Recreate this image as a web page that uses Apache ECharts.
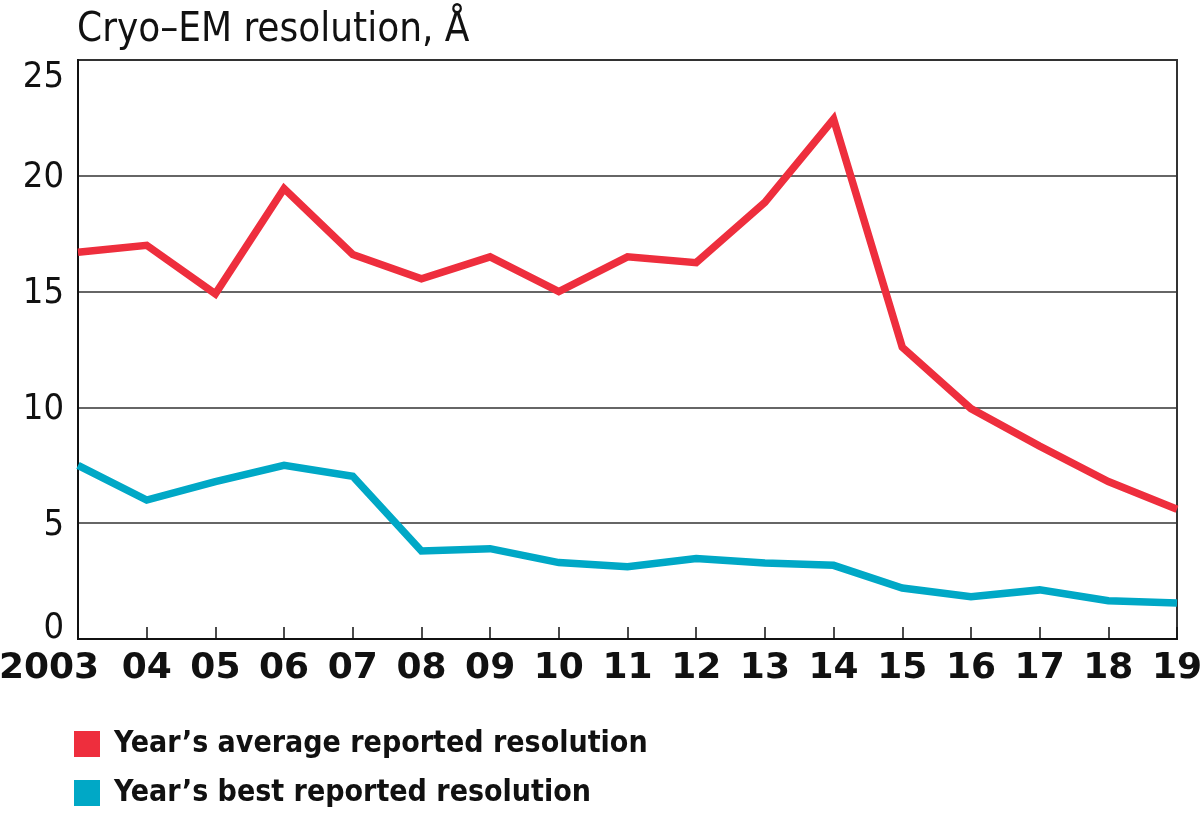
<!DOCTYPE html>
<html>
<head>
<meta charset="utf-8">
<script src="https://cdn.jsdelivr.net/npm/echarts@6/dist/echarts.min.js"></script>
<style>
html,body{margin:0;padding:0;background:#fff;}
#c{width:1200px;height:817px;}
</style>
</head>
<body>
<div id="c"></div>
<script>
const years = ['2003','04','05','06','07','08','09','10','11','12','13','14','15','16','17','18','19'];
const averageRes = [16.7, 17.0, 14.9, 19.45, 16.6, 15.55, 16.5, 15.0, 16.5, 16.25, 18.85, 22.45, 12.6, 9.95, 8.33, 6.8, 5.6];
const bestRes = [7.5, 6.0, 6.8, 7.5, 7.03, 3.8, 3.9, 3.3, 3.12, 3.48, 3.28, 3.18, 2.2, 1.83, 2.12, 1.65, 1.55];
const yTicks = [0, 5, 10, 15, 20, 25];
const titleText = 'Cryo–EM resolution, Å';
const seriesNames = ['Year’s average reported resolution', 'Year’s best reported resolution'];

const chart = echarts.init(document.getElementById('c'));
const narrow = '"Liberation Sans Narrow", "DejaVu Sans Condensed", sans-serif';
const legendText = {fontFamily: narrow, fontWeight: 'bold', fontSize: 30, lineHeight: 34, color: '#111', padding: [0, 0, 0, 9]};
chart.setOption({
  animation: false,
  backgroundColor: '#fff',
  title: {
    text: titleText,
    left: 72, top: 6,
    textStyle: {fontFamily: narrow, fontWeight: 'normal', fontSize: 40, color: '#111'}
  },
  legend: [
    {
      left: 69, top: 722, padding: 5,
      itemWidth: 26, itemHeight: 26,
      icon: 'rect',
      data: [seriesNames[0]],
      textStyle: legendText
    },
    {
      left: 69, top: 771, padding: 5,
      itemWidth: 26, itemHeight: 26,
      icon: 'rect',
      data: [seriesNames[1]],
      textStyle: legendText
    }
  ],
  grid: {
    left: 78, right: 23, top: 60, bottom: 178,
    containLabel: false,
    outerBoundsMode: 'none',
    show: true, borderColor: '#333', borderWidth: 2, backgroundColor: 'transparent'
  },
  xAxis: {
    type: 'category',
    data: years,
    boundaryGap: false,
    axisLine: {lineStyle: {color: '#111', width: 2}},
    axisTick: {inside: true, length: 12, interval: 0, lineStyle: {color: '#111', width: 1.5}},
    axisLabel: {
      interval: 0,
      margin: 12,
      color: '#111',
      fontFamily: '"DejaVu Sans", sans-serif',
      fontWeight: 'bold',
      fontSize: 36,
      formatter: function (v) { return v === years[0] ? '{first|' + v + '}' : v; },
      rich: {
        first: {fontFamily: '"DejaVu Sans", sans-serif', fontWeight: 'bold', fontSize: 36, color: '#111', padding: [0, 58, 0, 0]}
      }
    },
    splitLine: {show: false}
  },
  yAxis: {
    type: 'value',
    min: 0, max: 25, interval: 5,
    axisLine: {show: true, lineStyle: {color: '#111', width: 2}},
    axisTick: {show: false},
    axisLabel: {
      margin: 14,
      color: '#111',
      fontFamily: narrow,
      fontSize: 36,
      formatter: function (v) {
        if (v === yTicks[yTicks.length - 1]) return '{top|' + v + '}';
        if (v === yTicks[0]) return '{bot|' + v + '}';
        return '{n|' + v + '}';
      },
      rich: {
        top: {fontFamily: narrow, fontSize: 36, color: '#111', padding: [36, 0, 0, 0]},
        bot: {fontFamily: narrow, fontSize: 36, color: '#111', padding: [0, 0, 20, 0]},
        n: {fontFamily: narrow, fontSize: 36, color: '#111', padding: [4, 0, 0, 0]}
      }
    },
    splitLine: {lineStyle: {color: '#333', width: 1.5}}
  },
  series: [
    {
      name: seriesNames[0], type: 'line', data: averageRes,
      showSymbol: false, symbol: 'none',
      itemStyle: {color: '#EE2E3D'},
      lineStyle: {color: '#EE2E3D', width: 7.5, join: 'miter', cap: 'butt'}
    },
    {
      name: seriesNames[1], type: 'line', data: bestRes,
      showSymbol: false, symbol: 'none',
      itemStyle: {color: '#00A8C6'},
      lineStyle: {color: '#00A8C6', width: 7.5, join: 'miter', cap: 'butt'}
    }
  ]
});
</script>
</body>
</html>
